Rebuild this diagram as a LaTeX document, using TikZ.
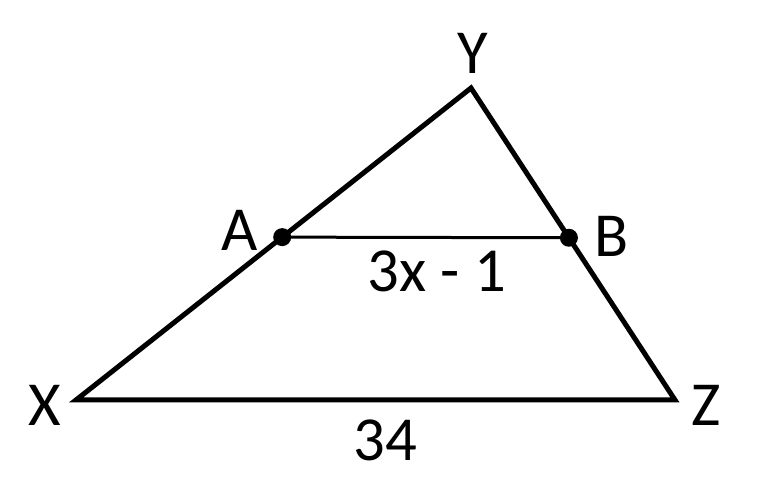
\documentclass[tikz,border=0pt]{standalone}
\usepackage{fontspec}
\setmainfont{Carlito}
\usetikzlibrary{calc}
\begin{document}
\begin{tikzpicture}[x=0.75pt,y=-0.75pt,
    lbl/.style={inner sep=0pt,font=\fontsize{47}{56}\selectfont}]
    \useasboundingbox (0,0) rectangle (768,484);
    \coordinate (X) at (76,400);
    \coordinate (Y) at (471,88);
    \coordinate (Z) at (675,400);
    \coordinate (A) at ($(X)!0.522!(Y)$);
    \coordinate (B) at ($(Y)!0.48!(Z)$);
    \draw[line width=3.75pt,miter limit=10] (X) -- (Y) -- (Z) -- cycle;
    \draw[line width=2.25pt] (A) -- (B);
    \fill (A) circle(9);
    \fill (B) circle(9);
    \node[lbl] (labX) at (45,405) {X};
    \node[lbl] (labY) at (473,53) {Y};
    \node[lbl] (labZ) at (706,405) {Z};
    \node[lbl] (labA) at (240,230) {A};
    \node[lbl] (labB) at (612,236) {B};
    \node[lbl] (labAB) at (437,271) {3x - 1};
    \node[lbl] (labXZ) at (385,440) {34};
\end{tikzpicture}
\end{document}
